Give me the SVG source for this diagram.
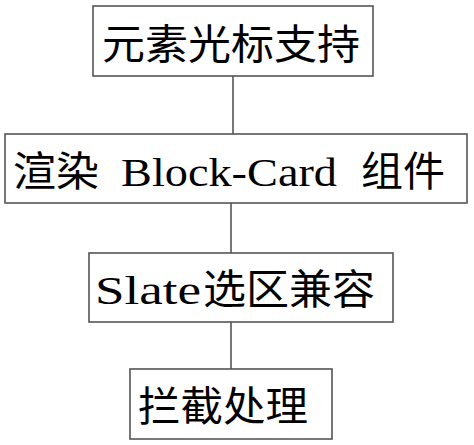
<svg xmlns="http://www.w3.org/2000/svg" width="474" height="445" viewBox="0 0 474 445">
<style>
.box{fill:#fff;stroke:#555;stroke-width:1.6}
.lbl{font-family:"Noto Sans CJK SC","Liberation Serif",sans-serif;font-size:41px;fill:#000}
.lat{font-family:"Liberation Serif","Noto Sans CJK SC",serif}
.ln{stroke:#555;stroke-width:1.6;fill:none}
</style>
<rect width="474" height="445" fill="#fff"/>
<g id="connectors">
<line class="ln" x1="233" y1="76" x2="233" y2="134"/>
<line class="ln" x1="231" y1="203" x2="231" y2="253"/>
<line class="ln" x1="231" y1="322" x2="231" y2="369"/>
</g>
<g id="node1">
<rect class="box" x="93" y="6" width="280" height="70"/>
<text class="lbl" x="102" y="59" textLength="258" lengthAdjust="spacingAndGlyphs">元素光标支持</text>
</g>
<g id="node2">
<rect class="box" x="5" y="134" width="462" height="69"/>
<text class="lbl" y="186"><tspan x="13" textLength="86" lengthAdjust="spacingAndGlyphs">渲染</tspan> <tspan class="lat" x="121" textLength="216" lengthAdjust="spacingAndGlyphs">Block-Card</tspan> <tspan x="361" textLength="84" lengthAdjust="spacingAndGlyphs">组件</tspan></text>
</g>
<g id="node3">
<rect class="box" x="89" y="253" width="304" height="69"/>
<text class="lbl" y="304"><tspan class="lat" x="95" textLength="106" lengthAdjust="spacingAndGlyphs">Slate</tspan><tspan x="203" textLength="172" lengthAdjust="spacingAndGlyphs">选区兼容</tspan></text>
</g>
<g id="node4">
<rect class="box" x="130" y="369" width="202" height="70"/>
<text class="lbl" x="138" y="421" textLength="170" lengthAdjust="spacingAndGlyphs">拦截处理</text>
</g>
</svg>
